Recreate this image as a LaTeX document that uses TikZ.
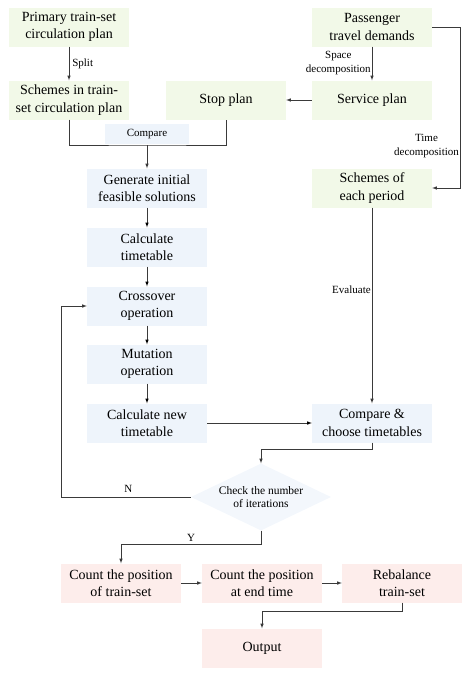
\documentclass[tikz,border=0pt]{standalone}
\usepackage{fontspec}
\setmainfont{Liberation Serif}
\newfontfamily\boxfont{Liberation Serif}
\usetikzlibrary{arrows,shapes.geometric}
\definecolor{greenfill}{HTML}{F2F9E8}
\definecolor{bluefill}{HTML}{EEF4FB}
\definecolor{pinkfill}{HTML}{FDEDEB}
\definecolor{linegray}{HTML}{3A3A3A}
\tikzstyle{stepbox}=[rectangle, inner sep=1pt, minimum width=120pt, minimum height=39pt, align=center, font=\boxfont\fontsize{14}{17.5}\selectfont]
\tikzstyle{inbox}=[stepbox, fill=greenfill]
\tikzstyle{gabox}=[stepbox, fill=bluefill]
\tikzstyle{outbox}=[stepbox, fill=pinkfill]
\tikzstyle{note}=[inner sep=0pt, align=center, font=\boxfont\fontsize{11}{14}\selectfont]
\newcommand{\inbox}{\node[inbox]}
\newcommand{\gabox}{\node[gabox]}
\newcommand{\outbox}{\node[outbox]}

\begin{document}
\begin{tikzpicture}[x=1pt, y=-1pt
  ,line/.style={draw=linegray, line width=0.6pt}
  ,flow/.style={line, -latex}
]
\useasboundingbox (0,0) rectangle (474,673);
\inbox (prim) at (69, 27) {Primary train-set\\circulation plan};
\inbox (pass) at (372, 27) {Passenger\\travel demands};
\inbox (sch) at (69,100) {Schemes in train-\\set circulation plan};
\inbox (stop) at (226,100) {Stop plan};
\inbox (serv) at (372,100) {Service plan};
\inbox (period) at (372,188) {Schemes of\\each period};
\node[note, fill=bluefill, minimum width=84pt, minimum height=20pt] (cmplabel) at (147,134) {Compare};
\gabox (gen) at (147,188) {Generate initial\\feasible solutions};
\gabox (calc) at (147,247) {Calculate\\timetable};
\gabox (cross) at (147,306) {Crossover\\operation};
\gabox (mut) at (147,364) {Mutation\\operation};
\gabox (calcnew) at (147,423) {Calculate new\\timetable};
\gabox (choose) at (372,423) {Compare \&\\choose timetables};
\node[diamond, aspect=2.1, fill=bluefill!70!white, inner sep=0pt, minimum width=140pt, minimum height=67pt, align=center, font=\boxfont\fontsize{11.5}{13}\selectfont] (check) at (261,497) {Check the number\\of iterations};
\outbox (cnt) at (121,583) {Count the position\\of train-set};
\outbox (cntend) at (262,583) {Count the position\\at end time};
\outbox (reb) at (402,583) {Rebalance\\train-set};
\outbox (out) at (262,648) {Output};
\coordinate (join) at (147,145);

% first part
\draw[flow] (prim) -- node[note, right=3pt] {Split} (sch);
\draw[flow] (pass) -- node[note, left=1pt] {Space\\decomposition} (serv);
\draw[flow] (serv) -- (stop);
\draw[flow] (pass.east) -- ++(28,0) |- node[note, pos=0.37, left=1pt] {Time\\decomposition} (period.east);
\draw[line] (sch.south) |- (join) -| (stop.south);
\draw[flow] (join) -- (gen);
% genetic loop
\path[flow]
(gen) edge (calc)
(calc) edge (cross)
(cross) edge (mut)
(mut) edge (calcnew)
(calcnew) edge (choose)
;
\draw[flow] (period) -- node[note, pos=0.42, left=1pt] {Evaluate} (choose);
\draw[flow] (choose.south) -- ++(0,7) -| (check.north);
\draw[flow] (check.west) -- node[note, above=4pt, pos=0.48] {N} ++(-130,0) |- (cross.west);
\draw[flow] (check.south) -- ++(0,14) -| node[note, above=3pt, pos=0.25] {Y} (cnt.north);
% output
\draw[flow] (cnt) -- (cntend);
\draw[flow] (cntend) -- (reb);
\draw[flow] (reb.south) -- ++(0,9) -| (out.north);
\end{tikzpicture}
\end{document}
